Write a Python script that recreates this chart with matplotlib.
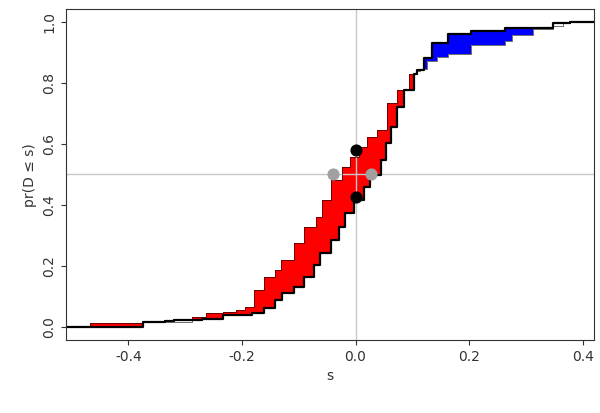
import numpy as np
import matplotlib.pyplot as plt

# step curve A (upper edge of red, lower edge of blue)
a_x = [-0.51, -0.467, -0.375, -0.288, -0.264, -0.234, -0.211, -0.194, -0.179, -0.162, -0.141,
       -0.132, -0.109, -0.091, -0.07, -0.059, -0.044, -0.023, -0.009, 0.006, 0.021, 0.038,
       0.056, 0.073, 0.094, 0.109, 0.114, 0.126, 0.144, 0.162, 0.204, 0.264, 0.276, 0.312,
       0.348, 0.366, 0.378]
a_y = [0.0, 0.011, 0.016, 0.033, 0.044, 0.049, 0.055, 0.066, 0.12, 0.164, 0.186,
       0.219, 0.274, 0.328, 0.361, 0.415, 0.481, 0.525, 0.557, 0.59, 0.623, 0.645,
       0.732, 0.776, 0.83, 0.84, 0.845, 0.87, 0.884, 0.895, 0.925, 0.936, 0.958, 0.975,
       0.986, 0.996, 1.0]
# step curve B (lower edge of red, upper edge of blue)
b_x = [-0.51, -0.375, -0.335, -0.32, -0.27, -0.234, -0.182, -0.162, -0.141, -0.129, -0.109,
       -0.091, -0.073, -0.062, -0.044, -0.029, -0.018, -0.003, 0.015, 0.026, 0.044, 0.053,
       0.062, 0.073, 0.085, 0.103, 0.109, 0.12, 0.135, 0.162, 0.204, 0.264, 0.348, 0.378]
b_y = [0.0, 0.016, 0.02, 0.022, 0.027, 0.04, 0.045, 0.061, 0.088, 0.11, 0.132,
       0.164, 0.203, 0.241, 0.285, 0.328, 0.372, 0.415, 0.459, 0.497, 0.546, 0.601,
       0.656, 0.721, 0.776, 0.83, 0.842, 0.88, 0.93, 0.96, 0.969, 0.979, 0.996, 1.0]

def step_eval(xs, ys, grid):
    idx = np.searchsorted(xs, grid, side='right') - 1
    return np.asarray(ys)[np.clip(idx, 0, None)]

grid = np.array(sorted(set(a_x) | set(b_x) | {0.42}))
ya = step_eval(a_x, a_y, grid)
yb = step_eval(b_x, b_y, grid)

fig = plt.figure(figsize=(6, 4.13), dpi=100)
ax = fig.add_axes([0.11, 0.177, 0.88, 0.8])
ax.axhline(0.5, color='#c8c8c8', lw=1)
ax.axvline(0.0, color='#c8c8c8', lw=1)
ax.fill_between(grid, ya, yb, where=ya >= yb, step='post', color='red', lw=0)
ax.fill_between(grid, ya, yb, where=yb > ya, step='post', color='blue', lw=0)
ax.step(grid, ya, where='post', color='black', lw=0.4)
ax.step(grid, yb, where='post', color='black', lw=1.6)
ax.scatter([0.0, 0.0], [0.578, 0.425], s=60, color='black', zorder=5)
ax.scatter([-0.04, 0.027], [0.5, 0.5], s=60, color='#a0a0a0', zorder=5)

ax.set_xlim(-0.51, 0.42)
ax.set_ylim(-0.043, 1.04)
ax.set_xticks([-0.4, -0.2, 0.0, 0.2, 0.4])
ax.set_yticks([0.0, 0.2, 0.4, 0.6, 0.8, 1.0])
ax.set_xticklabels(['-0.4', '-0.2', '0.0', '0.2', '0.4'])
ax.set_yticklabels(['0.0', '0.2', '0.4', '0.6', '0.8', '1.0'], rotation=90, va='center')
ax.tick_params(labelsize=10, colors='#333333')
ax.set_xlabel('s', fontsize=10, color='#333333')
ax.set_ylabel('pr(D ≤ s)', fontsize=10, color='#333333')
for sp in ax.spines.values():
    sp.set_color('#333333')
fig.savefig('out.png')
